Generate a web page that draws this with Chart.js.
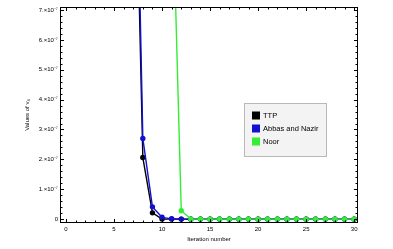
<!DOCTYPE html>
<html><head><meta charset="utf-8">
<script src="https://cdn.jsdelivr.net/npm/chart.js@4"></script>
<style>html,body{margin:0;padding:0;background:#fff;}#wrap{width:393px;height:249px;}</style>
</head><body><div id="wrap"><canvas id="c" width="393" height="249"></canvas></div>
<script>
const iterations = [7,8,9,10,11,12,13,14,15,16,17,18,19,20,21,22,23,24,25,26,27,28,29,30];
const ttp   = [1.6e-6,2.06e-7,2.1e-8,0,0,0,0,0,0,0,0,0,0,0,0,0,0,0,0,0,0,0,0,0];
const abbas = [1.8e-6,2.7e-7,4.1e-8,6e-9,1e-9,0,0,0,0,0,0,0,0,0,0,0,0,0,0,0,0,0,0,0];
const noorIter = [11,12,13,14,15,16,17,18,19,20,21,22,23,24,25,26,27,28,29,30];
const noor  = [1.2e-6,2.8e-8,0,0,0,0,0,0,0,0,0,0,0,0,0,0,0,0,0,0];
const xTicks = [0,5,10,15,20,25,30];
const yTicks = [0,1e-7,2e-7,3e-7,4e-7,5e-7,6e-7,7e-7];
const yTickLabels = ["0","1.×10⁻⁷","2.×10⁻⁷","3.×10⁻⁷","4.×10⁻⁷","5.×10⁻⁷","6.×10⁻⁷","7.×10⁻⁷"];
const seriesNames = ["TTP","Abbas and Nazir","Noor"];
const seriesColors = ["#000000","#1010d0","#33ee33"];

const pts = (xs, ys) => xs.map((x,i)=>({x, y: ys[i]}));
const FONT = "Liberation Sans";

const framePlugin = {
  id: 'frame',
  afterDatasetsDraw(chart) {
    const {ctx, chartArea: a, scales: {x, y}} = chart;
    ctx.save();
    ctx.strokeStyle = '#000'; ctx.lineWidth = 1;
    ctx.strokeRect(a.left+0.5, a.top+0.5, a.right-a.left-1, a.bottom-a.top-1);
    ctx.beginPath();
    for (let v = 0; v <= 30; v++) {
      const px = Math.round(x.getPixelForValue(v))+0.5;
      const L = v % 5 === 0 ? 4 : 2.5;
      ctx.moveTo(px, a.bottom); ctx.lineTo(px, a.bottom - L);
      ctx.moveTo(px, a.top); ctx.lineTo(px, a.top + L);
    }
    for (let k = 0; k <= 35; k++) {
      const v = k * 2e-8;
      const py = Math.round(y.getPixelForValue(v))+0.5;
      if (py < a.top) continue;
      const L = k % 5 === 0 ? 4 : 2.5;
      ctx.moveTo(a.left, py); ctx.lineTo(a.left + L, py);
      ctx.moveTo(a.right, py); ctx.lineTo(a.right - L, py);
    }
    ctx.stroke();
    // legend
    const lx = 244, ly = 103, lw = 82, lh = 53;
    ctx.fillStyle = '#f3f3f3'; ctx.fillRect(lx, ly, lw, lh);
    ctx.strokeStyle = '#b8b8b8'; ctx.strokeRect(lx+0.5, ly+0.5, lw, lh);
    ctx.font = '7.5px "' + FONT + '"'; ctx.textBaseline = 'middle';
    const rows = [115.5, 128.5, 141.5];
    seriesNames.forEach((n,i) => {
      ctx.fillStyle = seriesColors[i];
      ctx.fillRect(252, rows[i]-4, 8, 8);
      ctx.fillStyle = '#000';
      ctx.fillText(n, 263, rows[i]);
    });
    ctx.restore();
  }
};

const ds = (label, data, color, order) => ({
  label, data, borderColor: color, backgroundColor: color, order,
  borderWidth: 1.4, pointRadius: 2, pointHoverRadius: 2, tension: 0
});

new Chart(document.getElementById('c'), {
  type: 'line',
  data: { datasets: [
    ds(seriesNames[0], pts(iterations, ttp), seriesColors[0], 2),
    ds(seriesNames[1], pts(iterations, abbas), seriesColors[1], 1),
    ds(seriesNames[2], pts(noorIter, noor), seriesColors[2], 0)
  ]},
  options: {
    responsive: false, animation: false,
    layout: { padding: { left: 24, right: 35, top: 7, bottom: 0 } },
    plugins: { legend: { display: false }, tooltip: { enabled: false } },
    scales: {
      x: {
        type: 'linear', min: -0.625, max: 30.4,
        afterBuildTicks: s => { s.ticks = xTicks.map(v => ({value: v})); },
        afterFit: s => { s.height = 26; },
        grid: { display: false, drawTicks: false, tickLength: 0 }, border: { display: false },
        ticks: { color: '#000', font: { family: FONT, size: 6 }, padding: 3, maxRotation: 0 },
        title: { display: true, text: 'Iteration number', color: '#000', font: { family: FONT, size: 6 }, padding: { top: 0, bottom: 6 } }
      },
      y: {
        type: 'linear', min: -1.3e-8, max: 7.1e-7,
        afterBuildTicks: s => { s.ticks = yTicks.map(v => ({value: v})); },
        afterFit: s => { s.width = 36; },
        grid: { display: false, drawTicks: false, tickLength: 0 }, border: { display: false },
        ticks: { color: '#000', font: { family: FONT, size: 6 }, padding: 2,
          callback: (v) => { const i = yTicks.findIndex(t => Math.abs(t - v) < 1e-12); return i >= 0 ? yTickLabels[i] : ''; } },
        title: { display: true, text: 'Values of v₄', color: '#000', font: { family: FONT, size: 6 }, padding: 0 }
      }
    }
  },
  plugins: [framePlugin]
});
</script></body></html>
